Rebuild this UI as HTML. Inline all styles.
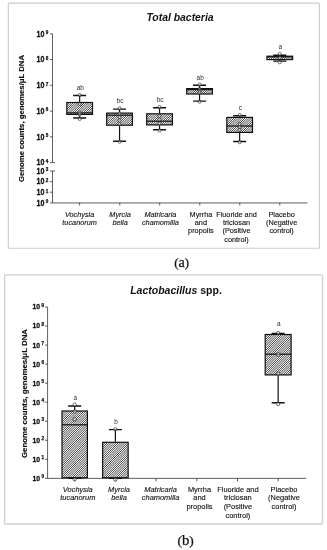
<!DOCTYPE html>
<html lang="en"><head><meta charset="utf-8"><title>Figure</title>
<style>html,body{margin:0;padding:0;background:#fff;}body{width:327px;height:550px;overflow:hidden;}svg{display:block;}text{font-family:'Liberation Sans', sans-serif;fill:#111;}.ax{stroke:#2a2a2a;stroke-width:0.75;fill:none;}.bx{stroke:#111;stroke-width:1.2;}.wh{stroke:#111;stroke-width:1.2;fill:none;}.pt{stroke:#1a1a1a;stroke-width:0.6;fill:#fff;fill-opacity:0.45;}.tl{font-weight:bold;font-size:8px;text-anchor:end;stroke:#111;stroke-width:0.3;}.sup{font-size:4.6px;font-weight:bold;stroke:#111;stroke-width:0.25;}.xl{font-size:7.3px;text-anchor:middle;fill:#111;stroke:#111;stroke-width:0.12;}.it{font-style:italic;}.x2{font-size:7.45px;}.lt{font-size:6.4px;text-anchor:middle;fill:#2a2a2a;}.yl{font-weight:bold;font-size:7.1px;text-anchor:middle;stroke:#111;stroke-width:0.15;}.cap{font-family:'Liberation Serif', serif;font-size:13.2px;text-anchor:middle;fill:#111;stroke:#111;stroke-width:0.25;}.cl{font-size:14.4px;}</style></head><body>
<svg width="327" height="550" viewBox="0 0 327 550">
<rect width="327" height="550" fill="#fff"/>
<rect x="8.3" y="3.1" width="311.1" height="245.1" rx="1" fill="none" stroke="#cbcbcb" stroke-width="1.1"/>
<rect x="4.6" y="274.9" width="317.9" height="249.1" rx="1" fill="none" stroke="#d0d0d0" stroke-width="1.3"/>
<path class="ax" d="M52.5,33.8 V162.6 M52.5,171 V202.95 H307.3"/>
<path class="ax" d="M49.9,33.8 H52.5 M49.9,59.56 H52.5 M49.9,85.32 H52.5 M49.9,111.08 H52.5 M49.9,136.84 H52.5 M50,162.6 H55.1 M50,171 H55.1 M49.9,181.6 H52.5 M49.9,192.2 H52.5 M49.9,202.95 H52.5 M79.6,202.95 V205.5 M119.8,202.95 V205.5 M159.7,202.95 V205.5 M199.8,202.95 V205.5 M239.8,202.95 V205.5 M279.8,202.95 V205.5 "/>
<text class="tl" style="font-size:8.5px" textLength="7.9" lengthAdjust="spacingAndGlyphs" x="44.35" y="36.55">10</text><text class="sup" x="45.7" y="34.2">9</text>
<text class="tl" style="font-size:8.5px" textLength="7.9" lengthAdjust="spacingAndGlyphs" x="44.35" y="62.31">10</text><text class="sup" x="45.7" y="59.96">8</text>
<text class="tl" style="font-size:8.5px" textLength="7.9" lengthAdjust="spacingAndGlyphs" x="44.35" y="88.07">10</text><text class="sup" x="45.7" y="85.72">7</text>
<text class="tl" style="font-size:8.5px" textLength="7.9" lengthAdjust="spacingAndGlyphs" x="44.35" y="113.83">10</text><text class="sup" x="45.7" y="111.48">6</text>
<text class="tl" style="font-size:8.5px" textLength="7.9" lengthAdjust="spacingAndGlyphs" x="44.35" y="139.59">10</text><text class="sup" x="45.7" y="137.24">5</text>
<text class="tl" style="font-size:8.5px" textLength="7.9" lengthAdjust="spacingAndGlyphs" x="44.35" y="165.35">10</text><text class="sup" x="45.7" y="163">4</text>
<text class="tl" style="font-size:8.5px" textLength="7.9" lengthAdjust="spacingAndGlyphs" x="44.35" y="173.75">10</text><text class="sup" x="45.7" y="171.4">3</text>
<text class="tl" style="font-size:8.5px" textLength="7.9" lengthAdjust="spacingAndGlyphs" x="44.35" y="184.35">10</text><text class="sup" x="45.7" y="182">2</text>
<text class="tl" style="font-size:8.5px" textLength="7.9" lengthAdjust="spacingAndGlyphs" x="44.35" y="194.95">10</text><text class="sup" x="45.7" y="192.6">1</text>
<text class="tl" style="font-size:8.5px" textLength="7.9" lengthAdjust="spacingAndGlyphs" x="44.35" y="205.7">10</text><text class="sup" x="45.7" y="203.35">0</text>
<text x="180" y="20.9" text-anchor="middle" style="font-weight:bold;font-style:italic;font-size:10.4px">Total bacteria</text>
<text class="yl" transform="translate(23.9,118.5) rotate(-90)" textLength="127" lengthAdjust="spacingAndGlyphs">Genome counts, genomes/μL DNA</text>
<path class="wh" d="M79.65,95.4 V101.9 M79.65,115 V118"/><path class="wh" style="stroke-width:1.45" d="M73.15,95.4 H86.15 M73.15,118 H86.15"/>
<clipPath id="c1"><rect x="66.8" y="102.5" width="25.7" height="11.9"/></clipPath>
<rect x="66.8" y="102.5" width="25.7" height="11.9" fill="#fff"/>
<path clip-path="url(#c1)" d="M65.8,101.4 L93.5,73.7 M65.8,103.6 L93.5,75.9 M65.8,105.8 L93.5,78.1 M65.8,108 L93.5,80.3 M65.8,110.2 L93.5,82.5 M65.8,112.4 L93.5,84.7 M65.8,114.6 L93.5,86.9 M65.8,116.8 L93.5,89.1 M65.8,119 L93.5,91.3 M65.8,121.2 L93.5,93.5 M65.8,123.4 L93.5,95.7 M65.8,125.6 L93.5,97.9 M65.8,127.8 L93.5,100.1 M65.8,130 L93.5,102.3 M65.8,132.2 L93.5,104.5 M65.8,134.4 L93.5,106.7 M65.8,136.6 L93.5,108.9 M65.8,138.8 L93.5,111.1 M65.8,141 L93.5,113.3 M65.8,143.2 L93.5,115.5 " stroke="#111" stroke-width="0.8" fill="none"/>
<rect class="bx" x="66.8" y="102.5" width="25.7" height="11.9" fill="none"/>
<path class="wh" d="M66.8,112.9 H92.5"/>
<circle class="pt" cx="79.65" cy="95" r="1.55"/>
<circle class="pt" cx="79.65" cy="104" r="1.55"/>
<circle class="pt" cx="79.65" cy="112.6" r="1.55"/>
<circle class="pt" cx="79.65" cy="114.6" r="1.55"/>
<circle class="pt" cx="79.65" cy="119" r="1.55"/>
<text class="lt" x="80.25" y="90.3">ab</text>
<path class="wh" d="M119.55,109.1 V112.5 M119.55,125.8 V141.2"/><path class="wh" style="stroke-width:1.45" d="M113.05,109.1 H126.05 M113.05,141.2 H126.05"/>
<clipPath id="c2"><rect x="106.7" y="113.1" width="25.7" height="12.1"/></clipPath>
<rect x="106.7" y="113.1" width="25.7" height="12.1" fill="#fff"/>
<path clip-path="url(#c2)" d="M105.7,112.1 L133.4,84.4 M105.7,114.3 L133.4,86.6 M105.7,116.5 L133.4,88.8 M105.7,118.7 L133.4,91 M105.7,120.9 L133.4,93.2 M105.7,123.1 L133.4,95.4 M105.7,125.3 L133.4,97.6 M105.7,127.5 L133.4,99.8 M105.7,129.7 L133.4,102 M105.7,131.9 L133.4,104.2 M105.7,134.1 L133.4,106.4 M105.7,136.3 L133.4,108.6 M105.7,138.5 L133.4,110.8 M105.7,140.7 L133.4,113 M105.7,142.9 L133.4,115.2 M105.7,145.1 L133.4,117.4 M105.7,147.3 L133.4,119.6 M105.7,149.5 L133.4,121.8 M105.7,151.7 L133.4,124 M105.7,153.9 L133.4,126.2 " stroke="#111" stroke-width="0.8" fill="none"/>
<rect class="bx" x="106.7" y="113.1" width="25.7" height="12.1" fill="none"/>
<path class="wh" d="M106.7,115.2 H132.4"/>
<circle class="pt" cx="119.55" cy="108.2" r="1.55"/>
<circle class="pt" cx="119.55" cy="113.5" r="1.55"/>
<circle class="pt" cx="119.55" cy="117" r="1.55"/>
<circle class="pt" cx="119.55" cy="120.5" r="1.55"/>
<circle class="pt" cx="119.55" cy="124" r="1.55"/>
<circle class="pt" cx="119.55" cy="141.7" r="1.55"/>
<text class="lt" x="120.15" y="103.4">bc</text>
<path class="wh" d="M159.55,107.7 V113.2 M159.55,125.5 V129.8"/><path class="wh" style="stroke-width:1.45" d="M153.05,107.7 H166.05 M153.05,129.8 H166.05"/>
<clipPath id="c3"><rect x="146.7" y="113.8" width="25.7" height="11.1"/></clipPath>
<rect x="146.7" y="113.8" width="25.7" height="11.1" fill="#fff"/>
<path clip-path="url(#c3)" d="M145.7,113.9 L173.4,86.2 M145.7,116.1 L173.4,88.4 M145.7,118.3 L173.4,90.6 M145.7,120.5 L173.4,92.8 M145.7,122.7 L173.4,95 M145.7,124.9 L173.4,97.2 M145.7,127.1 L173.4,99.4 M145.7,129.3 L173.4,101.6 M145.7,131.5 L173.4,103.8 M145.7,133.7 L173.4,106 M145.7,135.9 L173.4,108.2 M145.7,138.1 L173.4,110.4 M145.7,140.3 L173.4,112.6 M145.7,142.5 L173.4,114.8 M145.7,144.7 L173.4,117 M145.7,146.9 L173.4,119.2 M145.7,149.1 L173.4,121.4 M145.7,151.3 L173.4,123.6 M145.7,153.5 L173.4,125.8 " stroke="#111" stroke-width="0.8" fill="none"/>
<rect class="bx" x="146.7" y="113.8" width="25.7" height="11.1" fill="none"/>
<path class="wh" d="M146.7,121.2 H172.4"/>
<circle class="pt" cx="159.55" cy="107" r="1.55"/>
<circle class="pt" cx="159.55" cy="116" r="1.55"/>
<circle class="pt" cx="159.55" cy="119.5" r="1.55"/>
<circle class="pt" cx="159.55" cy="123.5" r="1.55"/>
<circle class="pt" cx="159.55" cy="130.5" r="1.55"/>
<text class="lt" x="160.15" y="101.8">bc</text>
<path class="wh" d="M199.55,85.2 V88 M199.55,94.6 V101.1"/><path class="wh" style="stroke-width:1.45" d="M193.05,85.2 H206.05 M193.05,101.1 H206.05"/>
<clipPath id="c4"><rect x="186.7" y="88.6" width="25.7" height="5.4"/></clipPath>
<rect x="186.7" y="88.6" width="25.7" height="5.4" fill="#fff"/>
<path clip-path="url(#c4)" d="M185.7,89.3 L213.4,61.6 M185.7,91.5 L213.4,63.8 M185.7,93.7 L213.4,66 M185.7,95.9 L213.4,68.2 M185.7,98.1 L213.4,70.4 M185.7,100.3 L213.4,72.6 M185.7,102.5 L213.4,74.8 M185.7,104.7 L213.4,77 M185.7,106.9 L213.4,79.2 M185.7,109.1 L213.4,81.4 M185.7,111.3 L213.4,83.6 M185.7,113.5 L213.4,85.8 M185.7,115.7 L213.4,88 M185.7,117.9 L213.4,90.2 M185.7,120.1 L213.4,92.4 M185.7,122.3 L213.4,94.6 " stroke="#111" stroke-width="0.8" fill="none"/>
<rect class="bx" x="186.7" y="88.6" width="25.7" height="5.4" fill="none"/>
<path class="wh" d="M186.7,89.6 H212.4"/>
<circle class="pt" cx="199.55" cy="84.5" r="1.55"/>
<circle class="pt" cx="199.55" cy="89" r="1.55"/>
<circle class="pt" cx="199.55" cy="91" r="1.55"/>
<circle class="pt" cx="199.55" cy="92.5" r="1.55"/>
<circle class="pt" cx="199.55" cy="101.7" r="1.55"/>
<text class="lt" x="200.15" y="79.7">ab</text>
<path class="wh" d="M239.65,115.8 V116.8 M239.65,133 V141.5"/><path class="wh" style="stroke-width:1.45" d="M233.15,115.8 H246.15 M233.15,141.5 H246.15"/>
<clipPath id="c5"><rect x="226.8" y="117.4" width="25.7" height="15"/></clipPath>
<rect x="226.8" y="117.4" width="25.7" height="15" fill="#fff"/>
<path clip-path="url(#c5)" d="M225.8,117.4 L253.5,89.7 M225.8,119.6 L253.5,91.9 M225.8,121.8 L253.5,94.1 M225.8,124 L253.5,96.3 M225.8,126.2 L253.5,98.5 M225.8,128.4 L253.5,100.7 M225.8,130.6 L253.5,102.9 M225.8,132.8 L253.5,105.1 M225.8,135 L253.5,107.3 M225.8,137.2 L253.5,109.5 M225.8,139.4 L253.5,111.7 M225.8,141.6 L253.5,113.9 M225.8,143.8 L253.5,116.1 M225.8,146 L253.5,118.3 M225.8,148.2 L253.5,120.5 M225.8,150.4 L253.5,122.7 M225.8,152.6 L253.5,124.9 M225.8,154.8 L253.5,127.1 M225.8,157 L253.5,129.3 M225.8,159.2 L253.5,131.5 " stroke="#111" stroke-width="0.8" fill="none"/>
<rect class="bx" x="226.8" y="117.4" width="25.7" height="15" fill="none"/>
<path class="wh" d="M226.8,126 H252.5"/>
<circle class="pt" cx="239.65" cy="115" r="1.55"/>
<circle class="pt" cx="239.65" cy="124" r="1.55"/>
<circle class="pt" cx="239.65" cy="127" r="1.55"/>
<circle class="pt" cx="239.65" cy="130" r="1.55"/>
<circle class="pt" cx="239.65" cy="142.2" r="1.55"/>
<text class="lt" x="240.25" y="109.5">c</text>
<path class="wh" d="M279.8,55.2 V55.6 M279.8,60.2 V61.1"/><path class="wh" style="stroke-width:1.45" d="M273.3,55.2 H286.3 M273.3,61.1 H286.3"/>
<clipPath id="c6"><rect x="266.95" y="56.2" width="25.7" height="3.4"/></clipPath>
<rect x="266.95" y="56.2" width="25.7" height="3.4" fill="#fff"/>
<path clip-path="url(#c6)" d="M265.95,55.25 L293.65,27.55 M265.95,57.45 L293.65,29.75 M265.95,59.65 L293.65,31.95 M265.95,61.85 L293.65,34.15 M265.95,64.05 L293.65,36.35 M265.95,66.25 L293.65,38.55 M265.95,68.45 L293.65,40.75 M265.95,70.65 L293.65,42.95 M265.95,72.85 L293.65,45.15 M265.95,75.05 L293.65,47.35 M265.95,77.25 L293.65,49.55 M265.95,79.45 L293.65,51.75 M265.95,81.65 L293.65,53.95 M265.95,83.85 L293.65,56.15 M265.95,86.05 L293.65,58.35 M265.95,88.25 L293.65,60.55 " stroke="#111" stroke-width="0.8" fill="none"/>
<rect class="bx" x="266.95" y="56.2" width="25.7" height="3.4" fill="none"/>
<path class="wh" d="M266.95,56.9 H292.65"/>
<circle class="pt" cx="279.8" cy="54" r="1.55"/>
<circle class="pt" cx="279.8" cy="57.7" r="1.55"/>
<circle class="pt" cx="279.8" cy="62.3" r="1.55"/>
<text class="lt" x="280.4" y="48.7">a</text>
<text class="xl it" x="79.6" y="216.55">Vochysia</text>
<text class="xl it" x="79.6" y="224.98">tucanorum</text>
<text class="xl it" x="120.1" y="216.55">Myrcia</text>
<text class="xl it" x="120.1" y="224.98">bella</text>
<text class="xl it" x="160.4" y="216.55">Matricaria</text>
<text class="xl it" x="160.4" y="224.98">chamomilla</text>
<text class="xl" x="200.9" y="216.55">Myrrha</text>
<text class="xl" x="200.9" y="224.98">and</text>
<text class="xl" x="200.9" y="233.41">propolis</text>
<text class="xl" x="236.5" y="216.55">Fluoride and</text>
<text class="xl" x="236.5" y="224.98">triclosan</text>
<text class="xl" x="236.5" y="233.41">(Positive</text>
<text class="xl" x="236.5" y="241.84">control)</text>
<text class="xl" x="281.6" y="216.55">Placebo</text>
<text class="xl" x="281.6" y="224.98">(Negative</text>
<text class="xl" x="281.6" y="233.41">control)</text>
<text class="cap" x="181.6" y="267.3" textLength="14.9" lengthAdjust="spacingAndGlyphs">(<tspan class="cl">a</tspan>)</text>
<path class="ax" d="M47.6,307 V478.36 H306.2"/>
<path class="ax" d="M45,478.36 H47.6 M45,459.32 H47.6 M45,440.28 H47.6 M45,421.24 H47.6 M45,402.2 H47.6 M45,383.16 H47.6 M45,364.12 H47.6 M45,345.08 H47.6 M45,326.04 H47.6 M45,307 H47.6 M74.6,478.36 V481.36 M115.4,478.36 V481.36 M156.1,478.36 V481.36 M196.8,478.36 V481.36 M237.5,478.36 V481.36 M278.2,478.36 V481.36 "/>
<text class="tl" style="font-size:7.7px" textLength="7.6" lengthAdjust="spacingAndGlyphs" x="40.15" y="480.81">10</text><text class="sup" x="41.5" y="478.46">0</text>
<text class="tl" style="font-size:7.7px" textLength="7.6" lengthAdjust="spacingAndGlyphs" x="40.15" y="461.77">10</text><text class="sup" x="41.5" y="459.42">1</text>
<text class="tl" style="font-size:7.7px" textLength="7.6" lengthAdjust="spacingAndGlyphs" x="40.15" y="442.73">10</text><text class="sup" x="41.5" y="440.38">2</text>
<text class="tl" style="font-size:7.7px" textLength="7.6" lengthAdjust="spacingAndGlyphs" x="40.15" y="423.69">10</text><text class="sup" x="41.5" y="421.34">3</text>
<text class="tl" style="font-size:7.7px" textLength="7.6" lengthAdjust="spacingAndGlyphs" x="40.15" y="404.65">10</text><text class="sup" x="41.5" y="402.3">4</text>
<text class="tl" style="font-size:7.7px" textLength="7.6" lengthAdjust="spacingAndGlyphs" x="40.15" y="385.61">10</text><text class="sup" x="41.5" y="383.26">5</text>
<text class="tl" style="font-size:7.7px" textLength="7.6" lengthAdjust="spacingAndGlyphs" x="40.15" y="366.57">10</text><text class="sup" x="41.5" y="364.22">6</text>
<text class="tl" style="font-size:7.7px" textLength="7.6" lengthAdjust="spacingAndGlyphs" x="40.15" y="347.53">10</text><text class="sup" x="41.5" y="345.18">7</text>
<text class="tl" style="font-size:7.7px" textLength="7.6" lengthAdjust="spacingAndGlyphs" x="40.15" y="328.49">10</text><text class="sup" x="41.5" y="326.14">8</text>
<text class="tl" style="font-size:7.7px" textLength="7.6" lengthAdjust="spacingAndGlyphs" x="40.15" y="309.45">10</text><text class="sup" x="41.5" y="307.1">9</text>
<text x="176" y="293.8" text-anchor="middle" style="font-weight:bold;font-size:10.5px"><tspan style="font-style:italic">Lactobacillus</tspan> spp.</text>
<text class="yl" transform="translate(27.3,393.5) rotate(-90)" textLength="129" lengthAdjust="spacingAndGlyphs" style="font-size:7.2px">Genome counts, genomes/μL DNA</text>
<path class="wh" d="M74.7,406 V410.4 M74.7,478.3 V478.3"/><path class="wh" style="stroke-width:1.45" d="M68.2,406 H81.2 M68.2,478.3 H81.2"/>
<clipPath id="c7"><rect x="62" y="411" width="25.4" height="66.7"/></clipPath>
<rect x="62" y="411" width="25.4" height="66.7" fill="#fff"/>
<path clip-path="url(#c7)" d="M61,409.8 L88.4,382.4 M61,412 L88.4,384.6 M61,414.2 L88.4,386.8 M61,416.4 L88.4,389 M61,418.6 L88.4,391.2 M61,420.8 L88.4,393.4 M61,423 L88.4,395.6 M61,425.2 L88.4,397.8 M61,427.4 L88.4,400 M61,429.6 L88.4,402.2 M61,431.8 L88.4,404.4 M61,434 L88.4,406.6 M61,436.2 L88.4,408.8 M61,438.4 L88.4,411 M61,440.6 L88.4,413.2 M61,442.8 L88.4,415.4 M61,445 L88.4,417.6 M61,447.2 L88.4,419.8 M61,449.4 L88.4,422 M61,451.6 L88.4,424.2 M61,453.8 L88.4,426.4 M61,456 L88.4,428.6 M61,458.2 L88.4,430.8 M61,460.4 L88.4,433 M61,462.6 L88.4,435.2 M61,464.8 L88.4,437.4 M61,467 L88.4,439.6 M61,469.2 L88.4,441.8 M61,471.4 L88.4,444 M61,473.6 L88.4,446.2 M61,475.8 L88.4,448.4 M61,478 L88.4,450.6 M61,480.2 L88.4,452.8 M61,482.4 L88.4,455 M61,484.6 L88.4,457.2 M61,486.8 L88.4,459.4 M61,489 L88.4,461.6 M61,491.2 L88.4,463.8 M61,493.4 L88.4,466 M61,495.6 L88.4,468.2 M61,497.8 L88.4,470.4 M61,500 L88.4,472.6 M61,502.2 L88.4,474.8 M61,504.4 L88.4,477 " stroke="#111" stroke-width="0.8" fill="none"/>
<rect class="bx" x="62" y="411" width="25.4" height="66.7" fill="none"/>
<path class="wh" d="M62,424.8 H87.4"/>
<circle class="pt" cx="74.7" cy="404.6" r="1.7"/>
<circle class="pt" cx="74.7" cy="411.5" r="1.7"/>
<circle class="pt" cx="74.7" cy="419.2" r="1.9"/>
<circle class="pt" cx="74.7" cy="479.3" r="1.7"/>
<text class="lt" x="75.3" y="399.5">a</text>
<path class="wh" d="M115.4,429.6 V441.7 M115.4,478.3 V478.3"/><path class="wh" style="stroke-width:1.45" d="M108.9,429.6 H121.9 M108.9,478.3 H121.9"/>
<clipPath id="c8"><rect x="102.65" y="442.3" width="25.5" height="35.4"/></clipPath>
<rect x="102.65" y="442.3" width="25.5" height="35.4" fill="#fff"/>
<path clip-path="url(#c8)" d="M101.65,441.75 L129.15,414.25 M101.65,443.95 L129.15,416.45 M101.65,446.15 L129.15,418.65 M101.65,448.35 L129.15,420.85 M101.65,450.55 L129.15,423.05 M101.65,452.75 L129.15,425.25 M101.65,454.95 L129.15,427.45 M101.65,457.15 L129.15,429.65 M101.65,459.35 L129.15,431.85 M101.65,461.55 L129.15,434.05 M101.65,463.75 L129.15,436.25 M101.65,465.95 L129.15,438.45 M101.65,468.15 L129.15,440.65 M101.65,470.35 L129.15,442.85 M101.65,472.55 L129.15,445.05 M101.65,474.75 L129.15,447.25 M101.65,476.95 L129.15,449.45 M101.65,479.15 L129.15,451.65 M101.65,481.35 L129.15,453.85 M101.65,483.55 L129.15,456.05 M101.65,485.75 L129.15,458.25 M101.65,487.95 L129.15,460.45 M101.65,490.15 L129.15,462.65 M101.65,492.35 L129.15,464.85 M101.65,494.55 L129.15,467.05 M101.65,496.75 L129.15,469.25 M101.65,498.95 L129.15,471.45 M101.65,501.15 L129.15,473.65 M101.65,503.35 L129.15,475.85 M101.65,505.55 L129.15,478.05 " stroke="#111" stroke-width="0.8" fill="none"/>
<rect class="bx" x="102.65" y="442.3" width="25.5" height="35.4" fill="none"/>
<circle class="pt" cx="115.4" cy="429.2" r="1.7"/>
<circle class="pt" cx="115.4" cy="479.5" r="1.7"/>
<text class="lt" x="116" y="423.8">b</text>
<path class="wh" d="M278.15,333.5 V333.9 M278.15,375.5 V402.7"/><path class="wh" style="stroke-width:1.45" d="M271.65,333.5 H284.65 M271.65,402.7 H284.65"/>
<clipPath id="c9"><rect x="265.2" y="334.5" width="25.9" height="40.4"/></clipPath>
<rect x="265.2" y="334.5" width="25.9" height="40.4" fill="#fff"/>
<path clip-path="url(#c9)" d="M264.2,334.2 L292.1,306.3 M264.2,336.4 L292.1,308.5 M264.2,338.6 L292.1,310.7 M264.2,340.8 L292.1,312.9 M264.2,343 L292.1,315.1 M264.2,345.2 L292.1,317.3 M264.2,347.4 L292.1,319.5 M264.2,349.6 L292.1,321.7 M264.2,351.8 L292.1,323.9 M264.2,354 L292.1,326.1 M264.2,356.2 L292.1,328.3 M264.2,358.4 L292.1,330.5 M264.2,360.6 L292.1,332.7 M264.2,362.8 L292.1,334.9 M264.2,365 L292.1,337.1 M264.2,367.2 L292.1,339.3 M264.2,369.4 L292.1,341.5 M264.2,371.6 L292.1,343.7 M264.2,373.8 L292.1,345.9 M264.2,376 L292.1,348.1 M264.2,378.2 L292.1,350.3 M264.2,380.4 L292.1,352.5 M264.2,382.6 L292.1,354.7 M264.2,384.8 L292.1,356.9 M264.2,387 L292.1,359.1 M264.2,389.2 L292.1,361.3 M264.2,391.4 L292.1,363.5 M264.2,393.6 L292.1,365.7 M264.2,395.8 L292.1,367.9 M264.2,398 L292.1,370.1 M264.2,400.2 L292.1,372.3 M264.2,402.4 L292.1,374.5 " stroke="#111" stroke-width="0.8" fill="none"/>
<rect class="bx" x="265.2" y="334.5" width="25.9" height="40.4" fill="none"/>
<path class="wh" d="M265.2,354.2 H291.1"/>
<circle class="pt" cx="278.15" cy="333" r="1.7"/>
<circle class="pt" cx="278.15" cy="354.5" r="1.9"/>
<circle class="pt" cx="278.15" cy="373.6" r="1.7"/>
<circle class="pt" cx="278.15" cy="404" r="1.7"/>
<text class="lt" x="278.75" y="326.1">a</text>
<text class="xl x2 it" x="77.8" y="491.5">Vochysia</text>
<text class="xl x2 it" x="77.8" y="500.3">tucanorum</text>
<text class="xl x2 it" x="119" y="491.5">Myrcia</text>
<text class="xl x2 it" x="119" y="500.3">bella</text>
<text class="xl x2 it" x="160.6" y="491.5">Matricaria</text>
<text class="xl x2 it" x="160.6" y="500.3">chamomilla</text>
<text class="xl x2" x="199.5" y="491.5">Myrrha</text>
<text class="xl x2" x="199.5" y="500.3">and</text>
<text class="xl x2" x="199.5" y="509.1">propolis</text>
<text class="xl x2" x="237.9" y="491.5">Fluoride and</text>
<text class="xl x2" x="237.9" y="500.3">triclosan</text>
<text class="xl x2" x="237.9" y="509.1">(Positive</text>
<text class="xl x2" x="237.9" y="517.9">control)</text>
<text class="xl x2" x="284" y="491.5">Placebo</text>
<text class="xl x2" x="284" y="500.3">(Negative</text>
<text class="xl x2" x="284" y="509.1">control)</text>
<text class="cap" x="185.6" y="544.6" textLength="16.3" lengthAdjust="spacingAndGlyphs">(<tspan class="cl">b</tspan>)</text>
</svg></body></html>
